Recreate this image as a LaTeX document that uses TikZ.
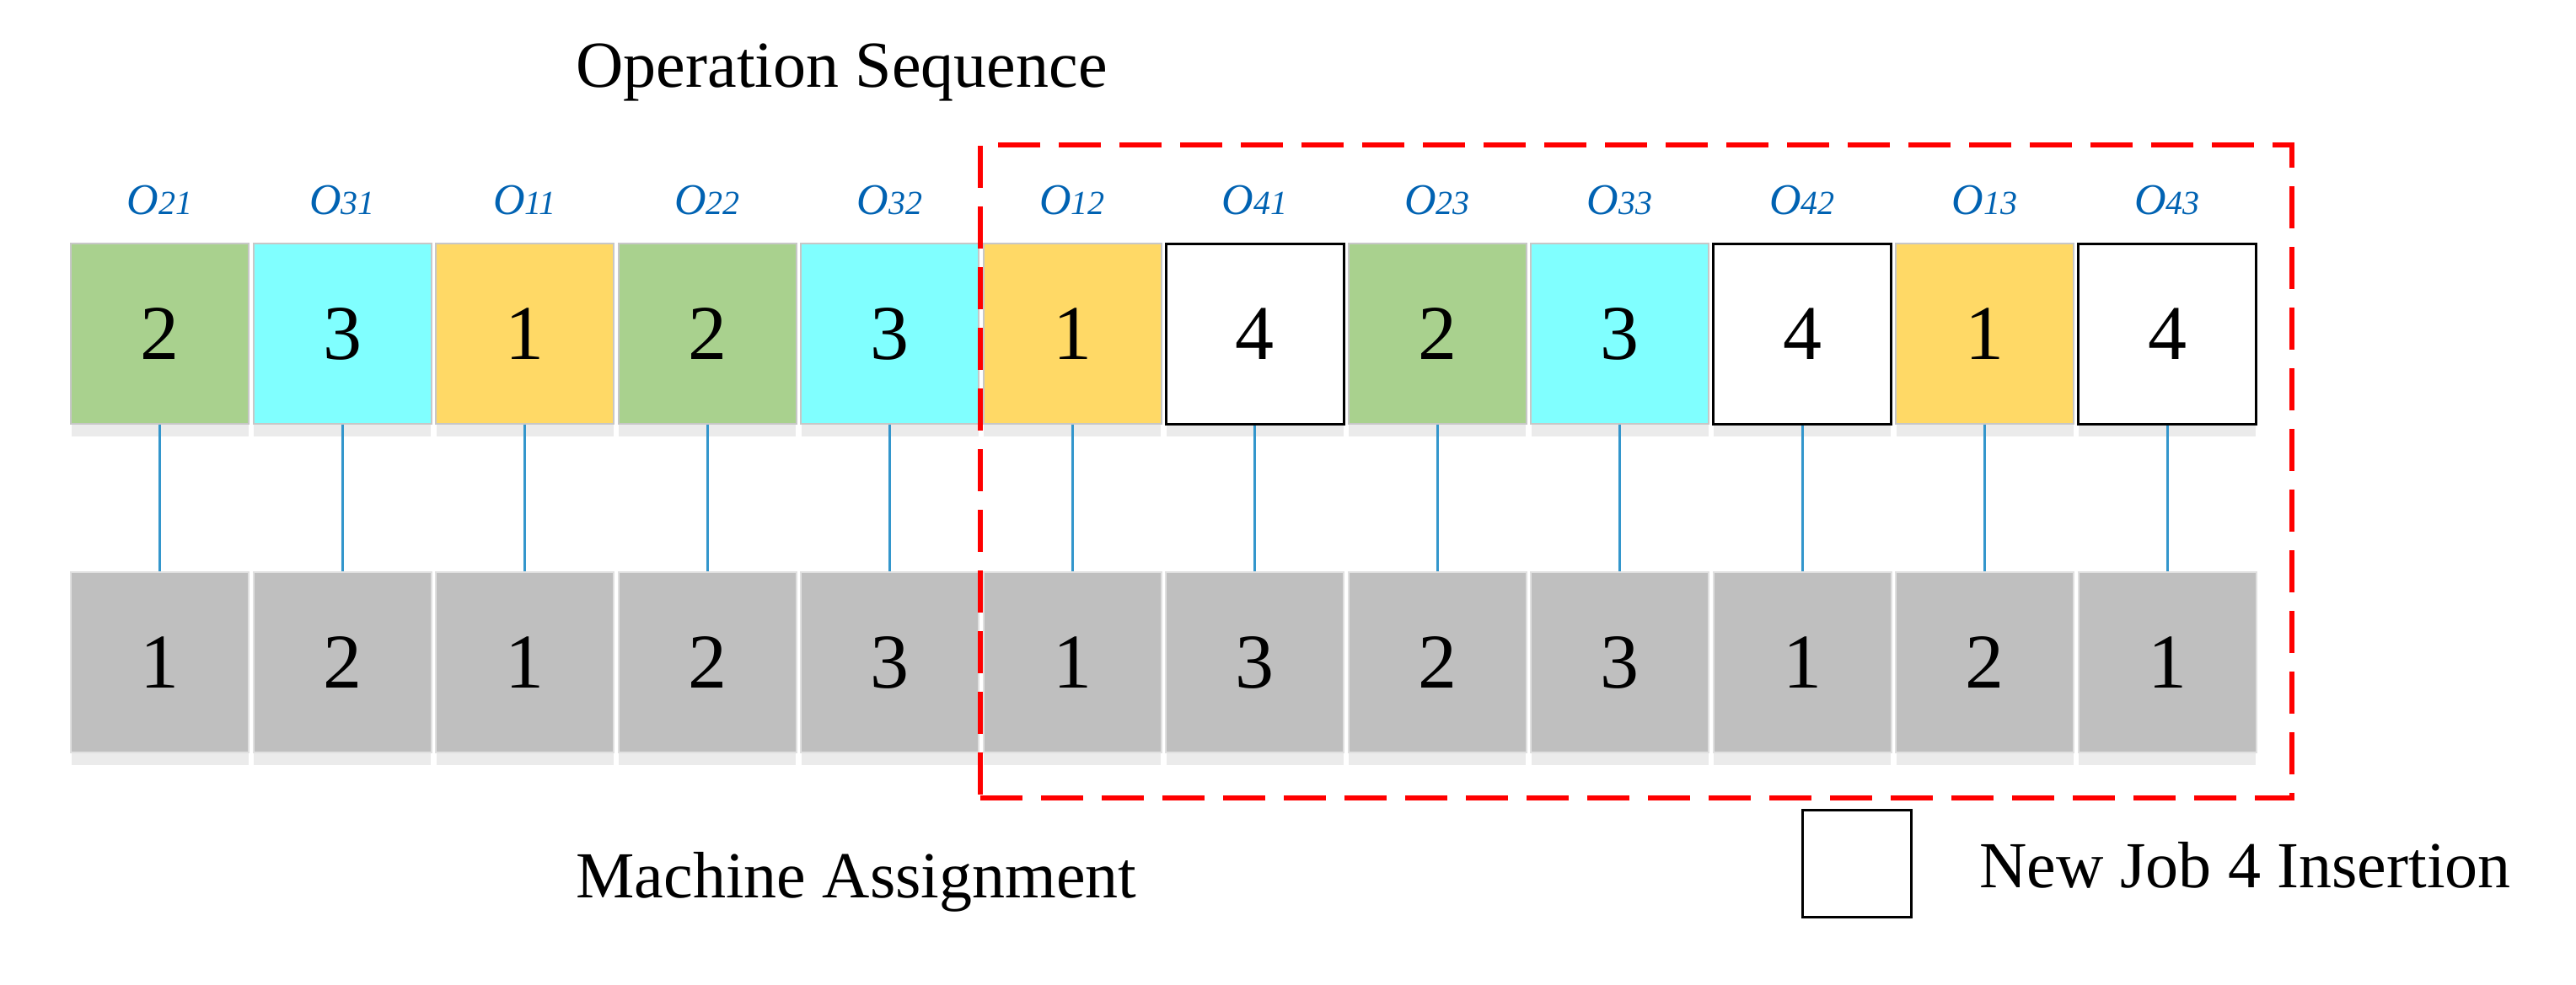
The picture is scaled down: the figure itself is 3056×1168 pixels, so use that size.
\documentclass[tikz,border=0pt]{standalone}
\usepackage{fontspec}
\setmainfont{Liberation Serif}
\begin{document}
\begin{tikzpicture}[x=1pt,y=-1pt,
  cell/.style={minimum width=211pt,minimum height=214pt,inner sep=0,draw=black!22,line width=2pt,font=\fontsize{92}{100}\selectfont},
  newcell/.style={cell,draw=black,line width=3pt,fill=white},
  lab/.style={text=blue!45!cyan!70!black,font=\fontsize{52}{56}\selectfont\itshape},
  link/.style={draw=blue!35!cyan!60!gray,line width=3pt},
  big/.style={font=\fontsize{78}{84}\selectfont,anchor=west}]
\useasboundingbox (0,0) rectangle (3056,1168);
\definecolor{cg}{HTML}{A9D18E}\definecolor{cc}{HTML}{80FFFF}
\definecolor{cy}{HTML}{FFD966}\definecolor{cm}{HTML}{BFBFBF}
\foreach \j/\l/\m [count=\i from 0] in {2/21/1,3/31/2,1/11/1,2/22/2,3/32/3,1/12/1,4/41/3,2/23/2,3/33/3,4/42/1,1/13/2,4/43/1}{
  \pgfmathsetmacro{\cx}{189.5+216.5*\i}
  \ifcase\j\or\def\cf{cy}\or\def\cf{cg}\or\def\cf{cc}\or\def\cf{white}\fi
  \fill[black!8] (\cx-105,503) rectangle (\cx+105,518);
  \fill[black!8] (\cx-105,893) rectangle (\cx+105,908);
  \ifnum\j=4
    \node[newcell] (t\i) at (\cx,396) {\j};
  \else
    \node[cell,fill=\cf] (t\i) at (\cx,396) {\j};
  \fi
  \node[cell,fill=cm,draw=black!12] (b\i) at (\cx,786) {\m};
  \node[lab] (o\i) at (\cx,238) {O{\fontsize{40}{44}\selectfont\l}};
  \draw[link] (t\i.south) -- (b\i.north);
}
\node[draw=red,line width=6pt,dash pattern=on 50pt off 22pt,minimum width=1556pt,minimum height=775pt,inner sep=0] (frame) at (1941,559.5) {};
\node[big] (os) at (680,86) {Operation Sequence};
\node[big] (ma) at (680,1047) {Machine Assignment};
\node[draw=black,line width=3pt,minimum width=129pt,minimum height=127pt,inner sep=0] (leg) at (2202.5,1024.5) {};
\node[big] (legt) at (2345,1027) {New Job 4 Insertion};
\end{tikzpicture}
\end{document}
